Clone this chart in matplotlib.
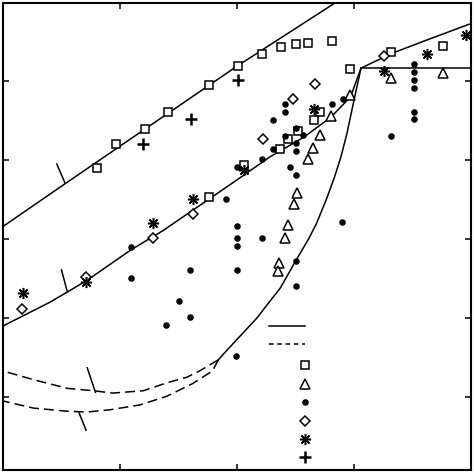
import matplotlib
matplotlib.use("Agg")
import matplotlib.pyplot as plt
from matplotlib.lines import Line2D

# ---- data (x 0..4, y 0..6 on the unlabeled axes) ----
sq_x = [0.80, 0.97, 1.21, 1.41, 1.76, 2.01, 2.21, 2.38, 2.50, 2.61, 2.81, 2.97, 3.32, 3.76,
        2.71, 2.66, 2.52, 2.44, 2.37, 2.06, 1.76]
sq_y = [3.90, 4.20, 4.39, 4.61, 4.95, 5.19, 5.34, 5.43, 5.47, 5.48, 5.51, 5.15, 5.37, 5.44,
        4.61, 4.51, 4.37, 4.27, 4.14, 3.94, 3.53]

tri_x = [2.97, 2.80, 2.71, 2.65, 2.61, 2.51, 2.49, 2.44, 2.41, 2.36, 2.35, 3.32, 3.76]
tri_y = [4.82, 4.56, 4.32, 4.16, 4.01, 3.59, 3.44, 3.18, 3.01, 2.70, 2.59, 5.04, 5.10]

dot_x = [1.09, 1.09, 1.39, 1.50, 1.60, 1.60, 1.91, 2.00, 2.00, 2.00, 2.00, 2.00, 1.99,
         2.21, 2.21, 2.31, 2.31, 2.41, 2.41, 2.41, 2.45, 2.50, 2.50, 2.50, 2.50, 2.56,
         2.81, 2.91, 2.90, 2.50, 2.50, 3.32, 3.51, 3.51, 3.51, 3.51, 3.51, 3.51]
dot_y = [2.90, 2.51, 1.91, 2.22, 2.61, 2.01, 3.51, 3.91, 3.16, 3.01, 2.91, 2.61, 1.52,
         3.01, 4.01, 4.51, 4.14, 4.71, 4.61, 4.30, 3.91, 4.41, 4.22, 4.11, 3.81, 4.32,
         4.71, 4.77, 3.22, 2.72, 2.41, 4.30, 5.22, 5.11, 5.01, 4.91, 4.61, 4.52]

dia_x = [0.16, 0.71, 1.28, 1.62, 2.22, 2.48, 2.67, 3.26]
dia_y = [2.11, 2.52, 3.01, 3.32, 4.27, 4.78, 4.97, 5.32]

ast_x = [0.17, 0.71, 1.28, 1.62, 2.06, 2.66, 3.26, 3.62, 3.96]
ast_y = [2.32, 2.46, 3.20, 3.51, 3.87, 4.65, 5.13, 5.34, 5.58]

plus_x = [1.20, 1.61, 2.01]
plus_y = [4.20, 4.52, 5.01]

# solid curves
upper_x = [0.00, 0.49, 1.21, 2.00, 2.90]
upper_y = [3.16, 3.66, 4.39, 5.19, 6.05]

mid_x = [0.00, 0.40, 0.55, 0.72, 1.09, 1.37, 2.00, 2.28, 2.57, 2.80, 2.97, 3.06]
mid_y = [1.90, 2.20, 2.33, 2.48, 2.86, 3.11, 3.75, 4.04, 4.29, 4.54, 4.80, 5.165]

branch_x = [3.06, 3.32, 3.62, 4.00]
branch_y = [5.165, 5.35, 5.52, 5.73]

flat_x = [3.06, 4.00]
flat_y = [5.165, 5.165]

steep_x = [3.06, 3.00, 2.94, 2.89, 2.83, 2.76, 2.68, 2.615, 2.50, 2.37, 2.29, 2.17, 2.00, 1.90, 1.84]
steep_y = [5.165, 4.76, 4.34, 4.05, 3.77, 3.49, 3.20, 3.01, 2.72, 2.38, 2.23, 2.00, 1.73, 1.57, 1.47]

# dashed curves
dash1_x = [1.84, 1.68, 1.57, 1.40, 1.20, 0.94, 0.77, 0.55, 0.26, 0.00]
dash1_y = [1.47, 1.33, 1.25, 1.18, 1.08, 1.05, 1.08, 1.11, 1.22, 1.33]
dash2_x = [1.84, 1.79, 1.62, 1.40, 1.17, 0.92, 0.72, 0.55, 0.26, 0.00]
dash2_y = [1.47, 1.33, 1.17, 1.01, 0.90, 0.84, 0.81, 0.82, 0.86, 0.95]

# short marks across the curves
marks = [([0.46, 0.53], [3.95, 3.71]),
         ([0.50, 0.55], [2.61, 2.33]),
         ([0.72, 0.79], [1.37, 1.06]),
         ([0.65, 0.71], [0.80, 0.58])]

fig = plt.figure(figsize=(4.74, 4.76), dpi=100)
ax = fig.add_axes([3 / 474, 6 / 476, 468 / 474, 467 / 476])

lw = 1.1
dash = (0, (6.5, 3.3))
ax.plot(upper_x, upper_y, color="black", lw=lw)
ax.plot(mid_x, mid_y, color="black", lw=lw)
ax.plot(branch_x, branch_y, color="black", lw=lw)
ax.plot(flat_x, flat_y, color="black", lw=lw)
ax.plot(steep_x, steep_y, color="black", lw=lw)
ax.plot(dash1_x, dash1_y, color="black", lw=lw, ls=dash)
ax.plot(dash2_x, dash2_y, color="black", lw=lw, ls=dash)
for mx, my in marks:
    ax.plot(mx, my, color="black", lw=lw)

mk = dict(linestyle="none", color="black", markeredgewidth=1.1)
h_sq, = ax.plot(sq_x, sq_y, marker="s", ms=6.0, mfc="white", **mk)
h_tri, = ax.plot(tri_x, tri_y, marker="^", ms=7.5, mfc="white", **mk)
h_dot, = ax.plot(dot_x, dot_y, marker="o", ms=3.6, mfc="black", **mk)
h_dia, = ax.plot(dia_x, dia_y, marker="D", ms=5.2, mfc="white", **mk)
h_ast, = ax.plot(ast_x, ast_y, marker=(8, 2, 0), ms=8, mfc="black", **mk)
h_plus, = ax.plot(plus_x, plus_y, marker="+", ms=8, mew=1.8, color="black", linestyle="none")

ax.set_xlim(0, 4.0)
ax.set_ylim(0.076, 5.99)
ax.set_xticks([1, 2, 3])
ax.set_yticks([1, 2, 3, 4, 5])
ax.tick_params(direction="in", length=4, width=1.1, top=True, right=True,
               labelbottom=False, labelleft=False)
for s in ax.spines.values():
    s.set_linewidth(1.5)

# legend: two line keys, then six marker keys (no label text)
line_keys = [Line2D([], [], color="black", lw=lw),
             Line2D([], [], color="black", lw=lw, ls=(0, (3, 2.4)))]
leg1 = ax.legend(line_keys, ["", ""], loc="upper left", bbox_to_anchor=(0.568, 0.322),
                 frameon=False, fontsize=10, handlelength=2.6, handletextpad=0,
                 borderpad=0, borderaxespad=0, labelspacing=0.32)
ax.add_artist(leg1)
ax.legend([h_sq, h_tri, h_dot, h_dia, h_ast, h_plus], [""] * 6, loc="upper left",
          bbox_to_anchor=(0.630, 0.2375), frameon=False, fontsize=10, handlelength=1.0,
          handletextpad=0, borderpad=0, borderaxespad=0, labelspacing=0.32, numpoints=1)

fig.savefig("out.png", dpi=100)
